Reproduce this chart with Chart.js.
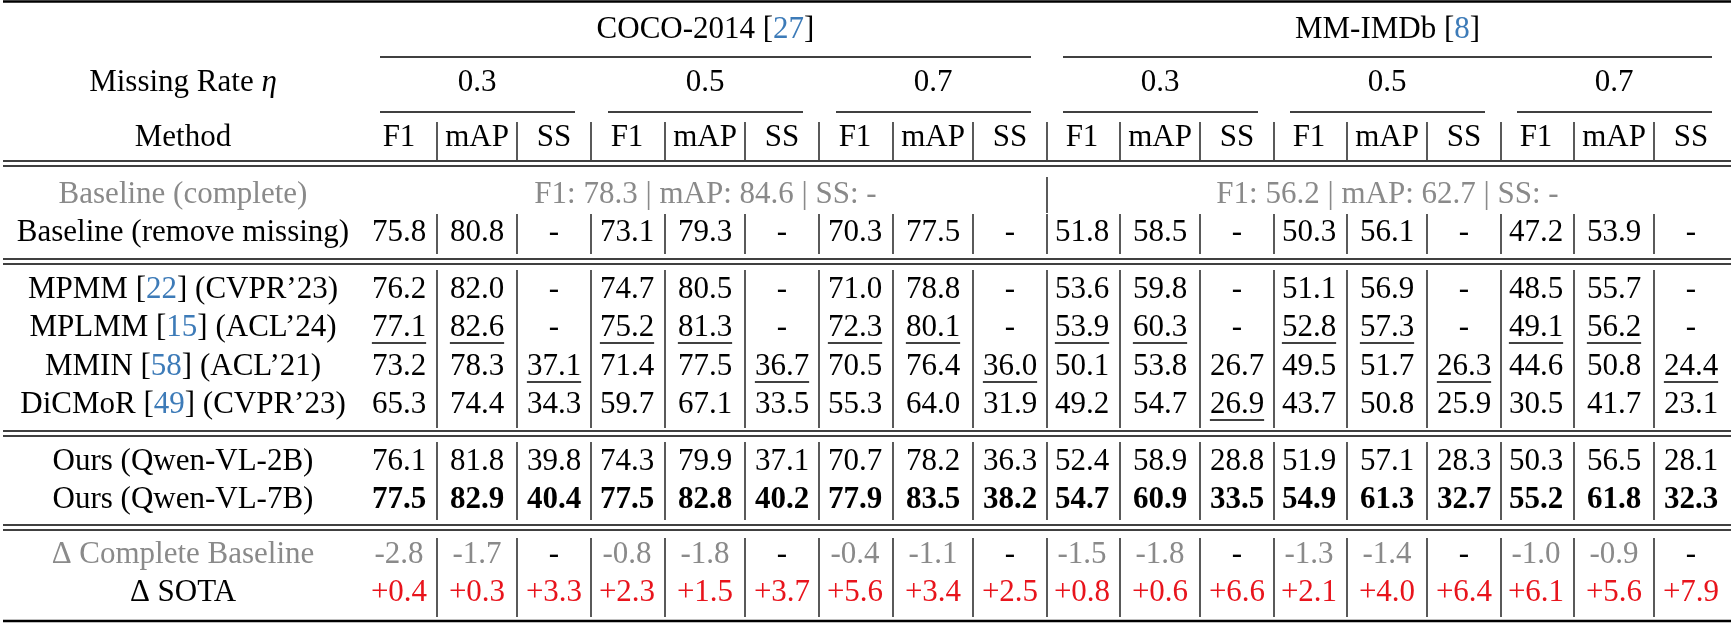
<!DOCTYPE html>
<html><head><meta charset="utf-8">
<script src="https://cdn.jsdelivr.net/npm/chart.js@4"></script>
<style>html,body{margin:0;padding:0;background:#fff}#wrap{width:1731px;height:627px}</style>
</head><body><div id="wrap"><canvas id="c" width="1731" height="627"></canvas></div>
<script>
const datasets_ = ["COCO-2014", "MM-IMDb"];
const datasetRefs = ["27", "8"];
const missingRates = ["0.3", "0.5", "0.7"];
const metrics = ["F1", "mAP", "SS"];
const baselineComplete = ["F1: 78.3 | mAP: 84.6 | SS: -", "F1: 56.2 | mAP: 62.7 | SS: -"];
const methods = [
  ["Baseline (remove missing)", "", ""],
  ["MPMM [", "22", "] (CVPR’23)"],
  ["MPLMM [", "15", "] (ACL’24)"],
  ["MMIN [", "58", "] (ACL’21)"],
  ["DiCMoR [", "49", "] (CVPR’23)"],
  ["Ours (Qwen-VL-2B)", "", ""],
  ["Ours (Qwen-VL-7B)", "", ""],
  ["Δ Complete Baseline", "", ""],
  ["Δ SOTA", "", ""]
];
const removeMissing = ["75.8","80.8","-","73.1","79.3","-","70.3","77.5","-","51.8","58.5","-","50.3","56.1","-","47.2","53.9","-"];
const mpmm   = ["76.2","82.0","-","74.7","80.5","-","71.0","78.8","-","53.6","59.8","-","51.1","56.9","-","48.5","55.7","-"];
const mplmm  = ["77.1","82.6","-","75.2","81.3","-","72.3","80.1","-","53.9","60.3","-","52.8","57.3","-","49.1","56.2","-"];
const mmin   = ["73.2","78.3","37.1","71.4","77.5","36.7","70.5","76.4","36.0","50.1","53.8","26.7","49.5","51.7","26.3","44.6","50.8","24.4"];
const dicmor = ["65.3","74.4","34.3","59.7","67.1","33.5","55.3","64.0","31.9","49.2","54.7","26.9","43.7","50.8","25.9","30.5","41.7","23.1"];
const ours2b = ["76.1","81.8","39.8","74.3","79.9","37.1","70.7","78.2","36.3","52.4","58.9","28.8","51.9","57.1","28.3","50.3","56.5","28.1"];
const ours7b = ["77.5","82.9","40.4","77.5","82.8","40.2","77.9","83.5","38.2","54.7","60.9","33.5","54.9","61.3","32.7","55.2","61.8","32.3"];
const deltaComplete = ["-2.8","-1.7","-","-0.8","-1.8","-","-0.4","-1.1","-","-1.5","-1.8","-","-1.3","-1.4","-","-1.0","-0.9","-"];
const deltaSota = ["+0.4","+0.3","+3.3","+2.3","+1.5","+3.7","+5.6","+3.4","+2.5","+0.8","+0.6","+6.6","+2.1","+4.0","+6.4","+6.1","+5.6","+7.9"];
const underlineMPLMM = [0,1,3,4,6,7,9,10,12,13,15,16];
const underlineMMIN = [2,5,8,14,17];
const underlineDiCMoR = [11];

const rowsData = [removeMissing, mpmm, mplmm, mmin, dicmor, ours2b, ours7b, deltaComplete, deltaSota];
const rowUnder = [[], [], underlineMPLMM, underlineMMIN, underlineDiCMoR, [], [], [], []];
const rowY = [233, 290, 328, 367, 405, 462, 500, 555, 593];
const groupF1 = [399, 627, 855, 1082, 1309, 1536];
const colOff = [0, 78, 155];
const FONT = "'Liberation Serif', 'Times New Roman', serif";
const GRAY = "#8a8a8a", RED = "#e8141c", BLUE = "#3d7bb8";

const tablePlugin = {
  id: 'table',
  afterDraw(chart) {
    const ctx = chart.ctx, sx = chart.scales.x, sy = chart.scales.y;
    const X = v => sx.getPixelForValue(v), Y = v => sy.getPixelForValue(v);
    ctx.save();
    ctx.textBaseline = 'middle';
    ctx.textAlign = 'left';
    function txt(parts, cx, cy) {
      let w = 0;
      parts.forEach(p => { ctx.font = p[2]; w += ctx.measureText(p[0]).width; });
      let x = X(cx) - w / 2;
      parts.forEach(p => { ctx.font = p[2]; ctx.fillStyle = p[1]; ctx.fillText(p[0], x, Y(cy)); x += ctx.measureText(p[0]).width; });
      return w;
    }
    const reg = "31px " + FONT, bold = "bold 31px " + FONT, ital = "italic 31px " + FONT;
    function hline(x1, x2, y, w) { ctx.strokeStyle = '#000'; ctx.lineWidth = w; ctx.beginPath(); ctx.moveTo(X(x1), Y(y)); ctx.lineTo(X(x2), Y(y)); ctx.stroke(); }
    function vline(x, y1, y2) { ctx.strokeStyle = '#000'; ctx.lineWidth = 1.3; ctx.beginPath(); ctx.moveTo(X(x), Y(y1)); ctx.lineTo(X(x), Y(y2)); ctx.stroke(); }
    hline(3, 1731, 1.5, 2.5);
    [[161,166],[259,264],[431,436],[525,530]].forEach(p => { hline(3,1731,p[0],1.4); hline(3,1731,p[1],1.4); });
    hline(3, 1731, 621, 2.5);
    for (let d = 0; d < 2; d++) {
      const a = groupF1[d*3] - 19, b = groupF1[d*3+2] + 176;
      txt([[datasets_[d] + " [", '#000', reg], [datasetRefs[d], BLUE, reg], ["]", '#000', reg]], (a+b)/2, 30);
      hline(a, b, 57, 1.3);
    }
    txt([["Missing Rate ", '#000', reg], ["η", '#000', ital]], 183, 83);
    txt([["Method", '#000', reg]], 183, 138);
    groupF1.forEach((f, g) => {
      txt([[missingRates[g % 3], '#000', reg]], f + 78, 83);
      hline(f - 19, f + 176, 112, 1.3);
      metrics.forEach((m, k) => txt([[m, '#000', reg]], f + colOff[k], 138));
    });
    txt([["Baseline (complete)", GRAY, reg]], 183, 195);
    for (let d = 0; d < 2; d++) {
      const a = groupF1[d*3] - 19, b = groupF1[d*3+2] + 176;
      txt([[baselineComplete[d], GRAY, reg]], (a+b)/2, 195);
    }
    vline(1047, 177, 213);
    rowsData.forEach((vals, r) => {
      const y = rowY[r];
      const lab = methods[r];
      const isBold = r === 6;
      const labColor = r === 7 ? GRAY : '#000';
      txt([[lab[0], labColor, reg], [lab[1], BLUE, reg], [lab[2], labColor, reg]], 183, y);
      vals.forEach((v, i) => {
        const g = Math.floor(i / 3), k = i % 3;
        const cx = groupF1[g] + colOff[k];
        let color = r === 7 ? GRAY : (r === 8 ? RED : '#000');
        if (v === '-') color = '#000';
        const w = txt([[v, color, isBold ? bold : reg]], cx, y);
        if (rowUnder[r].includes(i)) {
          ctx.strokeStyle = '#000'; ctx.lineWidth = 1.3; ctx.beginPath();
          ctx.moveTo(X(cx) - w/2, Y(y + 15)); ctx.lineTo(X(cx) + w/2, Y(y + 15)); ctx.stroke();
        }
      });
    });
    const segs = [[122,160],[214,254],[270,428],[442,520],[538,617]];
    segs.forEach(s => {
      groupF1.forEach((f, g) => {
        vline(f + 38, s[0], s[1]);
        vline(f + 118, s[0], s[1]);
        if (g < 5) vline(f + 192, s[0], s[1]);
      });
    });
    ctx.restore();
  }
};

new Chart(document.getElementById('c'), {
  type: 'scatter',
  data: { datasets: [{ data: [], pointRadius: 0 }] },
  options: {
    responsive: false, animation: false,
    layout: { padding: 0 },
    plugins: { legend: { display: false }, tooltip: { enabled: false } },
    scales: {
      x: { type: 'linear', min: 0, max: 1731, display: false },
      y: { type: 'linear', min: 0, max: 627, reverse: true, display: false }
    }
  },
  plugins: [tablePlugin]
});
</script></body></html>
